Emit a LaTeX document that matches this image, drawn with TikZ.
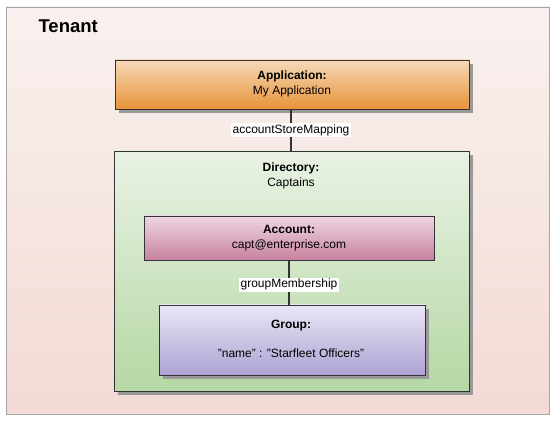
\documentclass[tikz,border=0pt]{standalone}
\usepackage{fontspec}
\setmainfont{Liberation Sans}
\begin{document}
\begin{tikzpicture}[x=1pt,y=-1pt,
  txt/.style={font=\fontsize{12}{14.5}\selectfont, align=center, text=black},
  box/.style={draw=black!80, line width=0.8pt},
  shad/.style={fill=black!40, draw=none},
  lbl/.style={fill=white, inner sep=1.5pt, font=\fontsize{12}{14}\selectfont},
  conn/.style={line width=1.6pt, draw=black!80}]
\definecolor{tenT}{HTML}{F9F1EF}
\definecolor{tenB}{HTML}{F3DAD4}
\definecolor{appT}{HTML}{F6D9B8}
\definecolor{appB}{HTML}{E8933A}
\definecolor{dirT}{HTML}{E9F2E4}
\definecolor{dirB}{HTML}{B5D8A4}
\definecolor{accT}{HTML}{EFD6E5}
\definecolor{accB}{HTML}{C7819F}
\definecolor{grpT}{HTML}{EAE7F5}
\definecolor{grpB}{HTML}{ADA2D4}
\useasboundingbox (0,0) rectangle (555,422);
\fill[white] (0,0) rectangle (555,422);
% Tenant
\shade[top color=tenT, bottom color=tenB, draw=black!35, line width=0.8pt] (6,7) rectangle (549,414);
\node[anchor=west, font=\fontsize{18.5}{22}\selectfont\bfseries] (tenant) at (35,26) {Tenant};
% Application
\fill[shad] (119,64) rectangle (473,113);
\shade[top color=appT, bottom color=appB, box] (115,60) rectangle (469,109);
\coordinate (appS) at (291,109);
\node[txt] (app) at (292,84) {\textbf{Application:}\\My Application};
% Directory
\fill[shad] (118,155) rectangle (473,395);
\shade[top color=dirT, bottom color=dirB, box] (114,151) rectangle (469,391);
\coordinate (dirN) at (291,151);
\node[txt] (dir) at (291,176) {\textbf{Directory:}\\Captains};
% Account
\shade[top color=accT, bottom color=accB, box] (144,216) rectangle (434,260);
\coordinate (accS) at (289,260);
\node[txt] (acc) at (289,238) {\textbf{Account:}\\capt@enterprise.com};
% Group
\fill[shad] (163,309) rectangle (429,379);
\shade[top color=grpT, bottom color=grpB, box] (159,305) rectangle (425,375);
\coordinate (grpN) at (289,305);
\node[txt] (grpt) at (291,326) {\textbf{Group:}};
\node[txt] (grpv) at (291,353) {"name" : "Starfleet Officers"};
% connectors
\draw[conn] (appS) -- node[lbl] (asm) {accountStoreMapping} (dirN);
\draw[conn] (accS) -- node[lbl, pos=0.55] (gm) {groupMembership} (grpN);
\end{tikzpicture}
\end{document}
